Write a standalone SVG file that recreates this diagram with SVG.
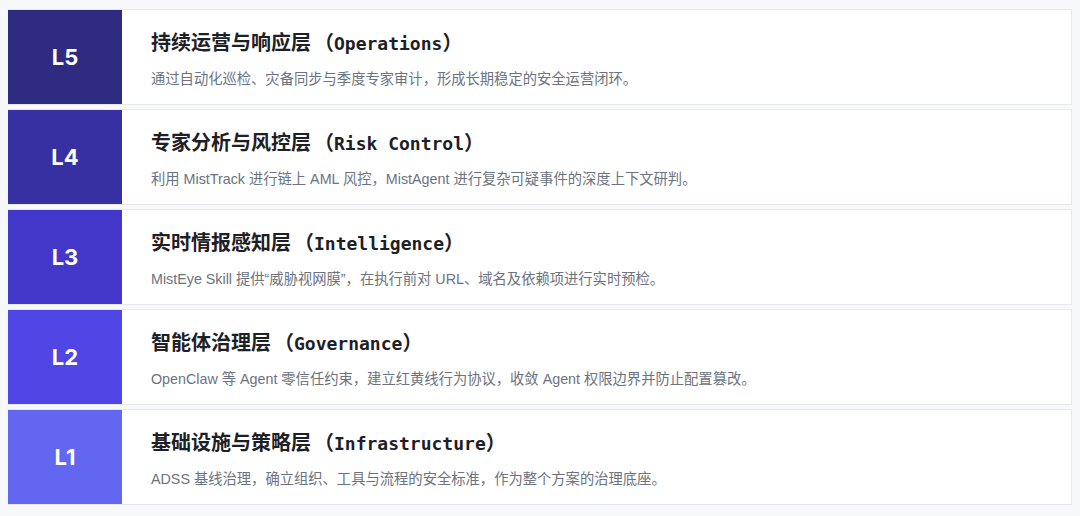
<svg xmlns="http://www.w3.org/2000/svg" width="1080" height="516" viewBox="0 0 1080 516">
<style>
.card{fill:#ffffff;stroke:#e6e8ec;stroke-width:1}
.lv{font-family:Inter,"Noto Sans","Liberation Sans",sans-serif;font-weight:700;font-size:22px;fill:#ffffff;text-anchor:middle}
.ttl{font-family:"DejaVu Sans Mono","Noto Sans CJK SC",monospace;font-weight:700;font-size:20px;fill:#1d2025}
.ttl .en{font-size:18px}
.desc{font-family:"Liberation Sans","Noto Sans CJK SC",sans-serif;font-size:14.3px;fill:#6b7280}
</style>
<rect width="1080" height="516" fill="#f7f8fa"/>
<g id="L5">
<rect class="card" x="8.5" y="9.5" width="1063" height="95"/>
<rect x="8" y="10" width="114" height="94" fill="#2f2b80"/>
<text class="lv" x="65" y="65">L5</text>
<text class="ttl" x="151" y="50">持续运营与响应层<tspan dx="3">（</tspan><tspan class="en">Operations</tspan>）</text>
<text class="desc" x="151" y="84">通过自动化巡检、灾备同步与季度专家审计，形成长期稳定的安全运营闭环。</text>
</g>
<g id="L4">
<rect class="card" x="8.5" y="109.5" width="1063" height="95"/>
<rect x="8" y="110" width="114" height="94" fill="#3730a3"/>
<text class="lv" x="65" y="165">L4</text>
<text class="ttl" x="151" y="150">专家分析与风控层<tspan dx="3">（</tspan><tspan class="en">Risk Control</tspan>）</text>
<text class="desc" x="151" y="184">利用 MistTrack 进行链上 AML 风控，MistAgent 进行复杂可疑事件的深度上下文研判。</text>
</g>
<g id="L3">
<rect class="card" x="8.5" y="209.5" width="1063" height="95"/>
<rect x="8" y="210" width="114" height="94" fill="#4338ca"/>
<text class="lv" x="65" y="265">L3</text>
<text class="ttl" x="151" y="250">实时情报感知层<tspan dx="3">（</tspan><tspan class="en">Intelligence</tspan>）</text>
<text class="desc" x="151" y="284">MistEye Skill 提供“威胁视网膜”，在执行前对 URL、域名及依赖项进行实时预检。</text>
</g>
<g id="L2">
<rect class="card" x="8.5" y="309.5" width="1063" height="95"/>
<rect x="8" y="310" width="114" height="94" fill="#4f46e5"/>
<text class="lv" x="65" y="365">L2</text>
<text class="ttl" x="151" y="350">智能体治理层<tspan dx="3">（</tspan><tspan class="en">Governance</tspan>）</text>
<text class="desc" x="151" y="384">OpenClaw 等 Agent 零信任约束，建立红黄线行为协议，收敛 Agent 权限边界并防止配置篡改。</text>
</g>
<g id="L1">
<rect class="card" x="8.5" y="409.5" width="1063" height="95"/>
<rect x="8" y="410" width="114" height="94" fill="#6366f1"/>
<text class="lv" x="65" y="465">L1</text>
<text class="ttl" x="151" y="450">基础设施与策略层<tspan dx="3">（</tspan><tspan class="en">Infrastructure</tspan>）</text>
<text class="desc" x="151" y="484">ADSS 基线治理，确立组织、工具与流程的安全标准，作为整个方案的治理底座。</text>
</g>
<g id="connectors"/>
</svg>
